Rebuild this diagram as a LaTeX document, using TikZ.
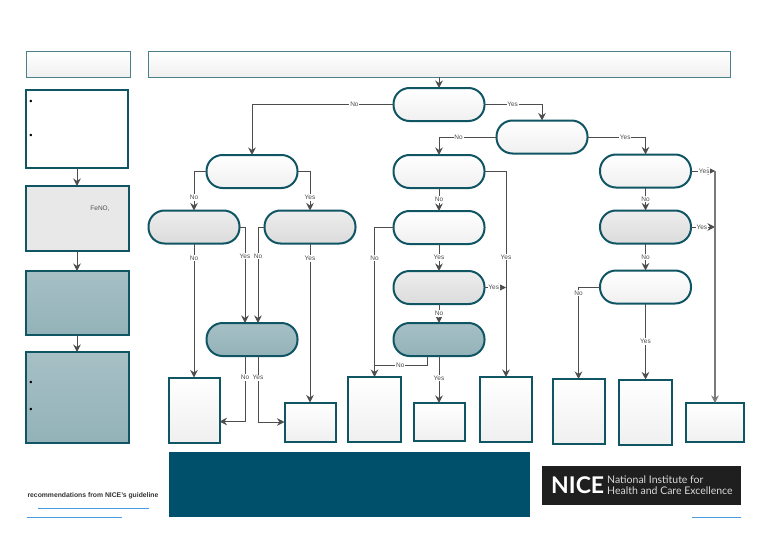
\documentclass[tikz,border=0pt]{standalone}
\usepackage{fontspec}
\setmainfont{Liberation Sans}
\newfontfamily\logofont{Lato}
\usetikzlibrary{arrows.meta}
\usetikzlibrary{positioning}

\definecolor{niceteal}{HTML}{0F5563}
\definecolor{niceblue}{HTML}{00506B}
\definecolor{flowgrey}{HTML}{4D4D4D}
\definecolor{linkblue}{HTML}{4A9BE0}

\tikzset{
    box/.style={draw=niceteal, line width=2pt, outer sep=0pt, inner sep=0pt, top color=white, bottom color=white},
    plainbox/.style={box, top color=white, bottom color=black!6},
    greybox/.style={box, top color=black!7, bottom color=black!14},
    solidgrey/.style={box, top color=black!9, bottom color=black!9},
    tealbox/.style={box, top color=niceteal!37, bottom color=niceteal!45},
    round/.style={minimum width=91pt, minimum height=33pt, rounded corners=16pt},
    header/.style={plainbox, draw=niceteal!75, line width=1pt, minimum height=25pt},
    flow/.style={draw=flowgrey, line width=1pt, -{Stealth[length=7.5pt,width=7.5pt]}},
    lbl/.style={font=\fontsize{6.5}{7}\selectfont, text=flowgrey, fill=white, inner sep=0.8pt}
}

\begin{document}
\begin{tikzpicture}[x=1pt, y=1pt]

    \useasboundingbox (0,0) rectangle (768,-543);

    \node[header, minimum width=104pt] (h_0) at (78,-64.5) {};
    \node[header, minimum width=582pt] (h_1) at (439,-64.5) {};

    % left column
    \node[box, minimum width=102pt, minimum height=78pt] (s_0) at (77,-129) {};
    \node[solidgrey, minimum width=103pt, minimum height=65pt] (s_1) [below = 18pt of s_0] {};
    \node[tealbox, minimum width=103pt, minimum height=64pt] (s_2) [below = 20pt of s_1] {};
    \node[tealbox, minimum width=103pt, minimum height=91pt] (s_3) [below = 17pt of s_2] {};

    \node[text=flowgrey, font=\fontsize{6.5}{7}\selectfont] (t_0) at (100,-209) {FeNO,};
    \node[inner sep=0pt, font=\small] (u_0) at (31,-102) {•};
    \node[inner sep=0pt, font=\small] (u_1) at (31,-136.5) {•};
    \node[inner sep=0pt, font=\small] (u_2) at (31,-383.5) {•};
    \node[inner sep=0pt, font=\small] (u_3) at (31,-410) {•};

    % decisions
    \node[plainbox, round] (d_0) [below = 11pt of h_1] {};
    \node[plainbox, round] (d_1) at (542,-137) {};
    \node[plainbox, round] (d_2) at (252,-171.5) {};
    \node[plainbox, round] (d_3) [below = 34pt of d_0] {};
    \node[plainbox, round] (d_4) at (645.5,-171) {};
    \node[greybox, round] (d_5) at (194,-227) {};
    \node[greybox, round] (d_6) at (310,-227) {};
    \node[plainbox, round] (d_7) [below = 23pt of d_3] {};
    \node[greybox, round] (d_8) [below = 23pt of d_4] {};
    \node[greybox, round] (d_9) [below = 27pt of d_7] {};
    \node[tealbox, round] (d_10) [below = 19pt of d_9] {};
    \node[tealbox, round] (d_11) [below = 135pt of d_2] {};
    \node[plainbox, round] (d_12) [below = 27pt of d_8] {};

    % outcomes
    \node[plainbox, minimum width=51pt, minimum height=65pt] (b_0) [below = 134pt of d_5] {};
    \node[plainbox, minimum width=51pt, minimum height=39pt] (b_1) [below = 159pt of d_6] {};
    \node[plainbox, minimum width=53pt, minimum height=65pt] (b_2) at (374.5,-409.5) {};
    \node[plainbox, minimum width=51pt, minimum height=38pt] (b_3) [below = 47pt of d_10] {};
    \node[plainbox, minimum width=52pt, minimum height=65pt] (b_4) at (506,-409.5) {};
    \node[plainbox, minimum width=52pt, minimum height=65pt] (b_5) at (578.5,-411.5) {};
    \node[plainbox, minimum width=53pt, minimum height=65pt] (b_6) [below = 76pt of d_12] {};
    \node[plainbox, minimum width=58pt, minimum height=39pt] (b_7) at (715,-422.5) {};

    \coordinate (j_0) at (b_4.north |- d_9.east);
    \coordinate[above = 12pt of b_2] (j_1);
    \coordinate (j_2) at (b_7.north |- d_4.east);
    \coordinate (j_3) at (b_7.north |- d_8.east);

    \draw[flow] (s_0) -- (s_1);
    \draw[flow] (s_1) -- (s_2);
    \draw[flow] (s_2) -- (s_3);
    \draw[flow] (h_1) -- (d_0);

    \draw[flow] (d_0.west) -| node[lbl, pos=0.138] {No} (d_2.north);
    \draw[flow] (d_0.east) -| node[lbl, pos=0.245] {Yes} (d_1.north);
    \draw[flow] (d_1.west) -| node[lbl, pos=0.33] {No} (d_3.north);
    \draw[flow] (d_1.east) -| node[lbl, pos=0.325] {Yes} (d_4.north);
    \draw[flow] (d_2.west) -| node[lbl, pos=0.833] {No} (d_5.north);
    \draw[flow] (d_2.east) -| node[lbl, pos=0.833] {Yes} (d_6.north);

    \draw[flow] (d_5.south) -- node[lbl, pos=0.11] {No} (b_0.north);
    \draw[flow] (d_5.east) -| node[lbl, pos=0.65] {Yes} ([xshift=-7pt]d_11.north);
    \draw[flow] (d_6.west) -| node[lbl, pos=0.65] {No} ([xshift=6pt]d_11.north);
    \draw[flow] (d_6.south) -- node[lbl, pos=0.094] {Yes} (b_1.north);
    \draw[flow] ([xshift=-7pt]d_11.south) |- node[lbl, pos=0.164] {No} ([yshift=-11.5pt]b_0.east);
    \draw[flow] ([xshift=6pt]d_11.south) |- node[lbl, pos=0.164] {Yes} (b_1.west);

    \draw[flow] (d_3.south) -- node[lbl] {No} (d_7.north);
    \draw[flow] (d_3.east) -| node[lbl, pos=0.709] {Yes} (b_4.north);
    \draw[flow] (d_7.west) -| node[lbl, pos=0.603] {No} (b_2.north);
    \draw[flow] (d_7.south) -- node[lbl] {Yes} (d_9.north);
    \draw[flow] (d_9.south) -- node[lbl] {No} (d_10.north);
    \draw[flow] (d_9.east) -- node[lbl, pos=0.43] {Yes} (j_0);
    \draw[flow] (d_10.south) -- node[lbl, pos=0.47] {Yes} (b_3.north);
    \draw[draw=flowgrey, line width=1pt] ([xshift=-12pt]d_10.south) |- node[lbl, pos=0.755] {No} (j_1);

    \draw[flow] (d_4.south) -- node[lbl] {No} (d_8.north);
    \draw[flow] (d_8.south) -- node[lbl] {No} (d_12.north);
    \draw[flow] (d_4.east) -- node[lbl, pos=0.55] {Yes} (j_2);
    \draw[flow] (d_8.east) -- node[lbl, pos=0.45] {Yes} (j_3);
    \draw[flow, line width=2pt, draw=black!52] (j_2) -- (b_7.north);
    \draw[flow] (d_12.west) -| node[lbl, pos=0.532] {No} (b_5.north);
    \draw[flow] (d_12.south) -- node[lbl] {Yes} (b_6.north);

    % footer
    \node[fill=niceblue, minimum width=361pt, minimum height=65pt, inner sep=0pt] (f_0) at (349.5,-484.5) {};
    \node[font=\fontsize{6.8}{8}\selectfont\bfseries, text=black!80, inner sep=0pt] (t_1) at (93,-496) {recommendations from NICE's guideline};
    \draw[draw=linkblue, line width=1pt] (38,-508) -- (149,-508);
    \draw[draw=linkblue, line width=1pt] (27,-517) -- (122,-517);
    \draw[draw=linkblue, line width=1pt] (692,-517) -- (741,-517);

    \node[fill=black!88, minimum width=199pt, minimum height=39pt, inner sep=0pt] (n_0) at (641.5,-485.5) {};
    \node[font=\logofont\fontsize{23}{23}\selectfont\bfseries, text=white, inner sep=0pt, anchor=west] (n_1) at (551,-485.5) {NICE};
    \node[font=\logofont\fontsize{10.5}{11}\selectfont, text=black!15, inner sep=0pt, anchor=west, align=left] (n_2) at (607,-485.5) {National Institute for\\Health and Care Excellence};

\end{tikzpicture}
\end{document}
